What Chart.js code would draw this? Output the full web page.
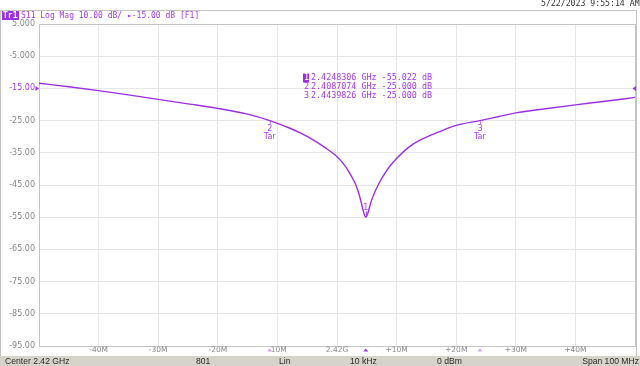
<!DOCTYPE html>
<html>
<head>
<meta charset="utf-8">
<script src="https://cdn.jsdelivr.net/npm/chart.js@4.4.1/dist/chart.umd.min.js"></script>
<style>
  html, body { margin: 0; padding: 0; background: #fff; }
  #wrap { width: 640px; height: 366px; position: relative; }
</style>
</head>
<body>
<div id="wrap"><canvas id="s11Chart" width="640" height="366"></canvas></div>
<script>
// offset from center (MHz) and measured S11 (dB)
const freqOffsets = [-50, -45, -40, -35, -30, -25, -20, -15, -11.29, -8, -6, -4, -2, 0, 1, 2, 3, 3.5, 4, 4.4, 4.6, 4.83, 5.0, 5.2, 5.8, 6.9, 8.5, 10, 12, 14, 17, 20, 23.98, 27, 30, 35, 40, 45, 50];
const s11Values = [-13.4, -14.5, -15.7, -17.0, -18.4, -19.8, -21.2, -23.0, -25.0, -27.3, -29.0, -31.0, -33.4, -36.2, -38.2, -40.9, -44.3, -46.7, -49.9, -53.0, -54.3, -55.02, -54.6, -53.6, -49.7, -45.0, -40.1, -36.8, -33.3, -31.0, -28.6, -26.5, -25.0, -23.8, -22.6, -21.3, -20.1, -19.0, -17.8];

// markers
const markerIds = [1, 2, 3];
const markerFreqs = [2.4248306, 2.4087074, 2.4439826]; // GHz
const markerVals = [-55.022, -25.000, -25.000];
const markerTags = ["", "Tar", "Tar"];

const centerGHz = 2.42;
const refLevel = -15;
const statusItems = ["Center 2.42 GHz", "801", "Lin", "10 kHz", "0 dBm", "Span 100 MHz"];

const TRACE = "#9b30e2";
const TEXT_PURPLE = "#a03ce8";
const LIGHT_PURPLE = "#cba3ef";
const GRID = "#e6e6e6";
const EDGE = "#c4c4c4";

const points = freqOffsets.map((f, i) => ({ x: f, y: s11Values[i] }));

const vnaOverlay = {
  id: "vnaOverlay",
  beforeDraw(chart) {
    const c = chart.ctx;
    c.save();
    c.fillStyle = "#fff";
    c.fillRect(0, 0, chart.width, chart.height);
    c.strokeStyle = EDGE;
    c.lineWidth = 1;
    c.strokeRect(0.5, 10.5, 636, 346);
    c.restore();
  },
  afterDraw(chart) {
    const c = chart.ctx;
    const xs = chart.scales.x;
    const ys = chart.scales.y;
    c.save();

    // header
    c.textBaseline = "middle";
    c.fillStyle = TRACE;
    c.fillRect(2, 11, 17, 9);
    c.fillStyle = "#fff";
    c.font = "bold 8px 'DejaVu Sans Mono'";
    c.fillText("Tr1", 3, 15.5);
    c.font = "8px 'DejaVu Sans Mono'";
    c.fillStyle = TEXT_PURPLE;
    c.fillText("S11 Log Mag 10.00 dB/ \u25B8-15.00 dB [F1]", 21, 15.5);

    // date
    c.fillStyle = "#333";
    c.font = "8.2px 'DejaVu Sans Mono'";
    c.fillText("5/22/2023 9:55:14 AM", 541, 4);

    // reference level arrows
    const yRef = ys.getPixelForValue(refLevel);
    c.fillStyle = TRACE;
    c.beginPath();
    c.moveTo(35.5, yRef - 2.5);
    c.lineTo(39, yRef);
    c.lineTo(35.5, yRef + 2.5);
    c.fill();
    c.beginPath();
    c.moveTo(chart.chartArea.right + 1, yRef - 2.5);
    c.lineTo(chart.chartArea.right - 2.5, yRef);
    c.lineTo(chart.chartArea.right + 1, yRef + 2.5);
    c.fill();

    // marker table
    c.font = "8.4px 'DejaVu Sans Mono'";
    markerIds.forEach((id, i) => {
      const y = 78 + i * 9;
      const line = markerFreqs[i].toFixed(7) + " GHz " + markerVals[i].toFixed(3) + " dB";
      if (i === 0) {
        c.fillStyle = TRACE;
        c.fillRect(303, y - 4.5, 6, 9);
        c.fillStyle = "#fff";
      } else {
        c.fillStyle = TEXT_PURPLE;
      }
      c.fillText(String(id), 304, y);
      c.fillStyle = TEXT_PURPLE;
      c.fillText(line, 311, y);
    });

    // markers on trace and along the bottom axis
    c.textAlign = "center";
    c.font = "8px 'DejaVu Sans'";
    markerIds.forEach((id, i) => {
      const px = xs.getPixelForValue((markerFreqs[i] - centerGHz) * 1000);
      const py = ys.getPixelForValue(markerVals[i]);
      c.strokeStyle = TEXT_PURPLE;
      c.fillStyle = TEXT_PURPLE;
      c.lineWidth = 1;
      if (i === 0) {
        c.beginPath();
        c.moveTo(px + 0.5, py - 2);
        c.lineTo(px + 0.5, py - 6);
        c.stroke();
        c.fillText(String(id), px, py - 9);
      } else {
        c.beginPath();
        c.moveTo(px + 0.5, py + 1);
        c.lineTo(px + 0.5, py + 3);
        c.stroke();
        c.fillText(String(id), px, py + 8);
        c.fillText(markerTags[i], px, py + 16);
      }
      const by = chart.chartArea.bottom + 4;
      c.fillStyle = i === 0 ? TRACE : LIGHT_PURPLE;
      c.beginPath();
      c.moveTo(px - 2.5, by + 1.5);
      c.lineTo(px, by - 1.5);
      c.lineTo(px + 2.5, by + 1.5);
      c.fill();
    });

    // status bar
    c.fillStyle = "#d6d3cb";
    c.fillRect(0, 356, chart.width, 10);
    c.fillStyle = "#2a2a2a";
    c.font = "8.6px 'Liberation Sans'";
    c.textBaseline = "middle";
    const statusX = [5, 196, 279, 350, 437, 639];
    statusItems.forEach((t, i) => {
      c.textAlign = i === statusItems.length - 1 ? "right" : "left";
      c.fillText(t, statusX[i], 361.5);
    });
    c.restore();
  }
};

new Chart(document.getElementById("s11Chart").getContext("2d"), {
  type: "line",
  data: {
    datasets: [{
      label: "S11",
      data: points,
      borderColor: TRACE,
      borderWidth: 1.4,
      pointRadius: 0,
      cubicInterpolationMode: "monotone",
      fill: false,
    }],
  },
  options: {
    responsive: false,
    animation: false,
    layout: { padding: { top: 24, right: 5, left: 0, bottom: 0 } },
    plugins: {
      legend: { display: false },
      tooltip: { enabled: false },
    },
    scales: {
      x: {
        type: "linear",
        min: -50,
        max: 50,
        afterFit: (scale) => { scale.height = 20; },
        ticks: {
          stepSize: 10,
          padding: 0,
          autoSkip: false,
          maxRotation: 0,
          color: "#888",
          font: { family: "DejaVu Sans", size: 7.5 },
          callback: (v) => {
            if (v === 0) return "2.42G";
            if (Math.abs(v) >= 50) return "";
            return v > 0 ? "+" + v + "M" : v + "M";
          },
        },
        grid: {
          drawTicks: false,
          color: (ctx) => (ctx.tick && Math.abs(ctx.tick.value) === 50 ? EDGE : GRID),
        },
        border: { color: EDGE },
      },
      y: {
        min: -95,
        max: 5,
        afterFit: (scale) => { scale.width = 39; },
        ticks: {
          stepSize: 10,
          padding: 4,
          color: (ctx) => (ctx.tick && ctx.tick.value === refLevel ? TEXT_PURPLE : "#888"),
          font: { family: "DejaVu Sans", size: 8 },
          callback: (v) => (Math.abs(v) < 10 ? v.toFixed(3) : v.toFixed(2)),
        },
        grid: {
          drawTicks: false,
          color: (ctx) => (ctx.tick && ctx.tick.value === 5 ? EDGE : GRID),
        },
        border: { color: EDGE },
      },
    },
  },
  plugins: [vnaOverlay],
});
</script>
</body>
</html>
